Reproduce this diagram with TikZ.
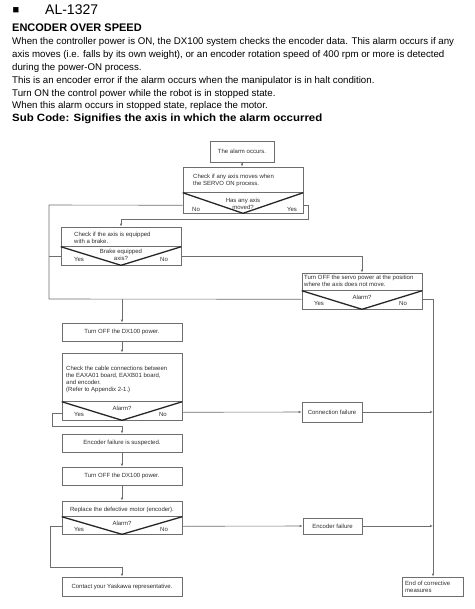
\documentclass[tikz,border=0pt]{standalone}
\usepackage{fontspec}
\setmainfont{Liberation Sans}
\usetikzlibrary{arrows.meta,calc}
\definecolor{linegray}{HTML}{6E6E6E}
\definecolor{txtgray}{HTML}{2E2E2E}
\begin{document}
\begin{tikzpicture}[x=1pt,y=-1pt,
  hdr/.style={anchor=base west,inner sep=0,font=\fontsize{9.7}{11}\selectfont},
  hdrb/.style={hdr,font=\fontsize{10.5}{11}\selectfont\bfseries},
  box/.style={draw=linegray,line width=0.6pt,inner sep=0,minimum width=120pt,
    font=\fontsize{6}{7}\selectfont,text=txtgray,align=center},
  ftxt/.style={inner sep=0,font=\fontsize{6}{7}\selectfont,text=txtgray},
  line/.style={draw=linegray,line width=0.6pt},
  arr/.style={line,-{Latex[length=3pt,width=2.4pt]}},
  vee/.style={draw=black!85,line width=1.3pt},
]
\useasboundingbox[fill=white] (0,0) rectangle (474,609);

% header
\node[anchor=base west,inner sep=0,font=\fontsize{11}{11}\selectfont] (sq) at (12.5,14) {■};
\node[anchor=base west,inner sep=0,font=\fontsize{14}{14}\selectfont] (al) at (45,15) {AL-1327};
\node[anchor=base west,inner sep=0,font=\fontsize{11}{11}\selectfont\bfseries] (ti) at (12,32) {ENCODER OVER SPEED};
\node[hdr] (h1) at (12,45) {When the controller power is ON, the DX100 system checks the encoder data. This alarm occurs if any};
\node[hdr] (h2) at (12,57.5) {axis moves (i.e. falls by its own weight), or an encoder rotation speed of 400 rpm or more is detected};
\node[hdr] (h3) at (12,71) {during the power-ON process.};
\node[hdr] (h4) at (12,83.5) {This is an encoder error if the alarm occurs when the manipulator is in halt condition.};
\node[hdr] (h5) at (12,96.5) {Turn ON the control power while the robot is in stopped state.};
\node[hdr] (h6) at (12,109) {When this alarm occurs in stopped state, replace the motor.};
\node[hdrb] (h7) at (12,121.5) {\scalebox{1.09}[1]{Sub Code: Signifies the axis in which the alarm occurred}};

% boxes
\node[box,minimum width=64pt,minimum height=21pt] (s) at (242,151.5) {The alarm occurs.};
\node[box,minimum height=46pt] (d1) at (243,190) {};
\node[box,minimum height=38pt] (b) at (121,246) {};
\node[box,minimum height=36pt] (sv) at (362,291) {};
\node[box,minimum height=18pt] (p1) at (122,332) {Turn OFF the DX100 power.};
\node[box,minimum height=67pt] (c) at (122,386.5) {};
\node[box,minimum width=60pt,minimum height=20pt] (cf) at (332,412) {Connection failure};
\node[box,minimum height=18pt] (e1) at (122,443) {Encoder failure is suspected.};
\node[box,minimum height=18pt] (p2) at (122,476) {Turn OFF the DX100 power.};
\node[box,minimum height=33pt] (r) at (122,517.5) {};
\node[box,minimum width=59pt,minimum height=16pt] (ef) at (332.5,526) {Encoder failure};
\node[box,minimum height=19pt] (ct) at (122,586.5) {Contact your Yaskawa representative.};
\node[box,minimum width=61pt,minimum height=19pt] (end) at (433,586.5) {};
\node[ftxt,anchor=west,align=left] (endt) at (405,586.5) {End of corrective\\measures};

% decision internals
\foreach \n/\t in {d1/26,b/20,sv/18,c/49,r/16}{
  \draw[line] ($(\n.north west)+(0,\t)$) -- ($(\n.north east)+(0,\t)$);
  \draw[vee,line join=miter] ($(\n.north west)+(0,\t)$) -- (\n.south) -- ($(\n.north east)+(0,\t)$);
}

% decision texts
\node[ftxt,anchor=west,align=left] (d1t) at (193,180) {Check if any axis moves when\\the SERVO ON process.};
\node[ftxt,align=center] (d1q) at (243,203.5) {Has any axis\\moved?};
\node[ftxt] (d1n) at (196,209) {No};
\node[ftxt] (d1y) at (292,209) {Yes};

\node[ftxt,anchor=west,align=left] (bt) at (74,237.5) {Check if the axis is equipped\\with a brake.};
\node[ftxt,align=center] (bq) at (121,254.5) {Brake equipped\\axis?};
\node[ftxt] (by) at (79,259.5) {Yes};
\node[ftxt] (bn) at (164,259.5) {No};

\node[ftxt,anchor=west,align=left] (svt) at (304,280.5) {Turn OFF the servo power at the position\\where the axis does not move.};
\node[ftxt] (svq) at (362,297.5) {Alarm?};
\node[ftxt] (svy) at (319,303.5) {Yes};
\node[ftxt] (svn) at (403,303.5) {No};

\node[ftxt,anchor=west,align=left] (ctx) at (66,379) {Check the cable connections between\\the EAXA01 board, EAXB01 board,\\and encoder.\\(Refer to Appendix 2-1.)};
\node[ftxt] (cq) at (122,408) {Alarm?};
\node[ftxt] (cy) at (79,414) {Yes};
\node[ftxt] (cn) at (163,414) {No};

\node[ftxt] (rt) at (122,509.5) {Replace the defective motor (encoder).};
\node[ftxt] (rq) at (122,523) {Alarm?};
\node[ftxt] (ry) at (79,529) {Yes};
\node[ftxt] (rn) at (164,529) {No};

% helper coordinates
\coordinate (L1) at (49,205);
\coordinate (L2) at (49,299);
\coordinate (Y1) at (308,219);

% connectors
\draw[arr] (s.south) -- (s.south |- d1.north);
\draw[line] ($(d1.south west)+(0,-8)$) -- (L1) -- (L2) -- ($(sv.south west)+(0,-10)$);
\draw[arr] (p1.north |- L2) -- (p1.north);
\draw[arr] ($(d1.south east)+(0,-8)$) -| (Y1) -| (b.north);
\draw[line] ($(b.south west)+(0,-9)$) -- (L1 |- {$(b.south west)+(0,-9)$});
\draw[arr] ($(b.south east)+(0,-9)$) -| (sv.north);
\draw[arr] ($(sv.south east)+(0,-10)$) -| (end.north);
\draw[arr] (p1) -- (c);
\draw[arr] ($(c.south west)+(0,-7)$) -- ++(-9,0) |- ($(e1.north)+(0,-7)$) -- (e1.north);
\draw[arr] ($(c.south east)+(0,-8)$) -- (cf.west);
\coordinate (v1) at (end.north |- cf.east);
\draw[arr] (cf.east) -- (v1);
\draw[arr] (e1) -- (p2);
\draw[arr] (p2) -- (r);
\draw[arr] ($(r.south west)+(0,-8)$) -- ++(-11,0) |- ($(ct.north)+(0,-9)$) -- (ct.north);
\draw[arr] ($(r.south east)+(0,-8)$) -- (ef.west);
\coordinate (v2) at (end.north |- ef.east);
\draw[arr] (ef.east) -- (v2);
\end{tikzpicture}
\end{document}
